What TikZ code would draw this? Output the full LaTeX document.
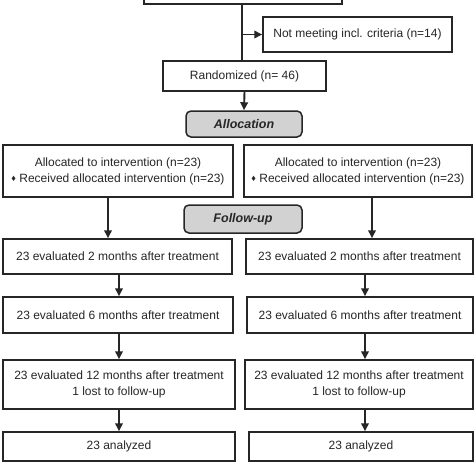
\documentclass[tikz,border=0pt]{standalone}
\usepackage{fontspec}
\setmainfont{Liberation Sans}
\usetikzlibrary{arrows.meta}
\definecolor{ink}{HTML}{262626}
\definecolor{fillg}{HTML}{D2D2D2}
\newcommand{\dbul}{{\fontsize{9}{9}\selectfont\raisebox{0.5pt}{♦}}}
\begin{document}
\begin{tikzpicture}[x=1pt,y=-1pt,
  box/.style={draw=ink,line width=1.5pt,fill=white,inner sep=0pt,align=center,
    text=ink,font=\fontsize{12}{16}\selectfont},
  phase/.style={draw=ink,line width=1.5pt,fill=fillg,rounded corners=5pt,inner sep=0pt,
    text=ink,font=\fontsize{12.5}{15}\selectfont\bfseries\itshape},
  arr/.style={draw=ink,line width=1.9pt,-{Triangle[length=8pt,width=7.5pt]}},
  ln/.style={draw=ink,line width=1.9pt}]
\clip (0,0) rectangle (474,474);
\fill[white] (0,0) rectangle (474,474);
\node[box,minimum width=198,minimum height=34] (screen) at (243,-13) {};
\node[box,minimum width=189,minimum height=35] (excl) at (357.5,34.5) {Not meeting incl. criteria (n=14)};
\node[box,minimum width=163,minimum height=30] (rand) at (244.5,76) {Randomized (n= 46)};
\node[phase,minimum width=116,minimum height=26] (alloc) at (244,124) {Allocation};
\node[box,minimum width=230,minimum height=52] (a1) at (118,171) {Allocated to intervention (n=23)\\\dbul{} Received allocated intervention (n=23)};
\node[box,minimum width=228,minimum height=52] (a2) at (358,171) {Allocated to intervention (n=23)\\\dbul{} Received allocated intervention (n=23)};
\node[phase,minimum width=118,minimum height=28] (fu) at (243,219) {Follow-up};
\node[box,minimum width=229,minimum height=35] (e2l) at (117.5,256.5) {23 evaluated 2 months after treatment};
\node[box,minimum width=227,minimum height=35] (e2r) at (359.5,256.5) {23 evaluated 2 months after treatment};
\node[box,minimum width=230,minimum height=36] (e6l) at (118,315) {23 evaluated 6 months after treatment};
\node[box,minimum width=226,minimum height=36] (e6r) at (360,315) {23 evaluated 6 months after treatment};
\node[box,minimum width=232,minimum height=49] (e12l) at (119,384.5) {23 evaluated 12 months after treatment\\1 lost to follow-up};
\node[box,minimum width=228,minimum height=49] (e12r) at (359,384.5) {23 evaluated 12 months after treatment\\1 lost to follow-up};
\node[box,minimum width=232,minimum height=29] (anl) at (119,446.5) {23 analyzed};
\node[box,minimum width=224,minimum height=29] (anr) at (361,446.5) {23 analyzed};
% connectors
\draw[ln] ([xshift=-1pt]screen.south) -- ([xshift=-1pt]screen.south |- rand.north);
\draw[arr] ([xshift=-1pt]screen.south |- excl.west) -- (excl.west);
\draw[arr] (rand.south) -- (alloc.north);
\draw[arr] ([xshift=-10pt]a1.south) -- ([xshift=-10pt]a1.south |- e2l.north);
\draw[arr] ([xshift=14pt]a2.south) -- ([xshift=14pt]a2.south |- e2r.north);
\draw[arr] ([xshift=1.5pt]e2l.south) -- ([xshift=1.5pt]e2l.south |- e6l.north);
\draw[arr] ([xshift=5.5pt]e2r.south) -- ([xshift=5.5pt]e2r.south |- e6r.north);
\draw[arr] ([xshift=1pt]e6l.south) -- ([xshift=1pt]e6l.south |- e12l.north);
\draw[arr] ([xshift=5pt]e6r.south) -- ([xshift=5pt]e6r.south |- e12r.north);
\draw[arr] (e12l.south) -- (e12l.south |- anl.north);
\draw[arr] ([xshift=6pt]e12r.south) -- ([xshift=6pt]e12r.south |- anr.north);
\end{tikzpicture}
\end{document}
